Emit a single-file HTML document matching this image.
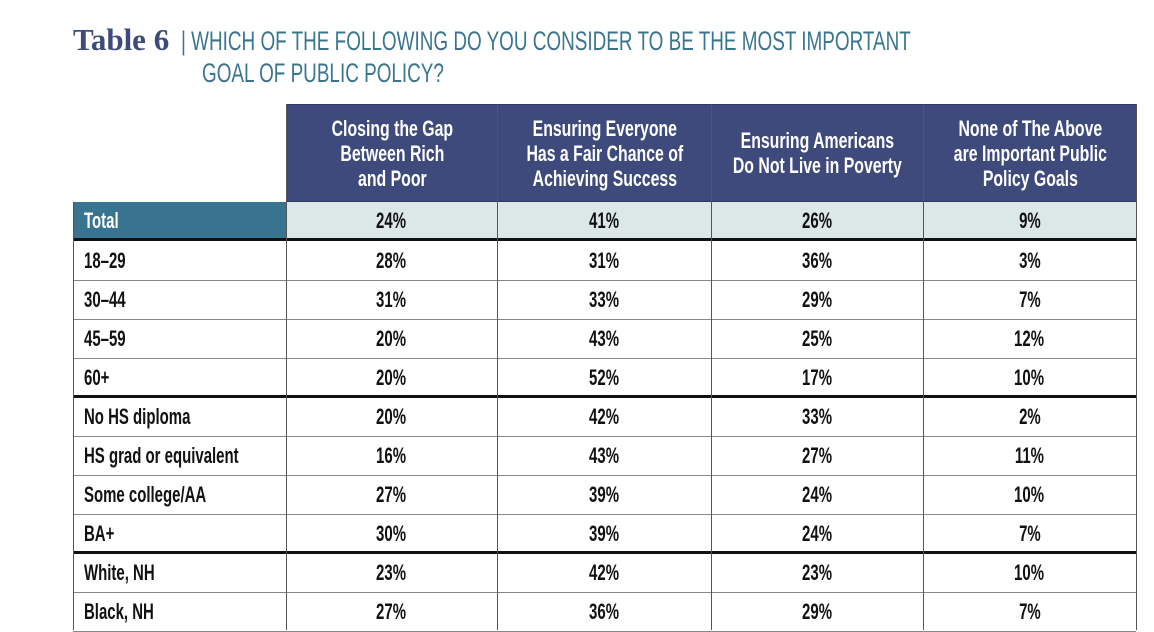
<!DOCTYPE html>
<html><head><meta charset="utf-8">
<style>
body{margin:0;width:1154px;height:630px;overflow:hidden;background:#fff;position:relative;font-family:"Liberation Sans",sans-serif}
.abs{position:absolute}
.c{display:inline-block;transform:scaleX(0.68);white-space:nowrap}
.cell{position:absolute;display:flex;align-items:center;justify-content:center;font-size:22px;font-weight:bold;color:#111;box-sizing:border-box}
.lab{justify-content:flex-start;padding-left:11px}
.lab .c{transform-origin:left center}
.hd{background:#3e4a7c;color:#fff;font-weight:bold;font-size:22px;line-height:25px;text-align:center;border:1px solid #2f3760}
.hd .c{transform:scaleX(0.72)}
.vl{position:absolute;width:1px;background:#555}
.hl{position:absolute;height:1px;background:#888;left:73px;width:1063px}
</style></head><body>
<div class="abs" style="left:73px;top:22px;font-family:'Liberation Serif',serif;font-weight:bold;font-size:31px;color:#3d4a7a">Table 6</div>
<div class="abs" style="left:181px;top:25px;font-size:27px;color:#3a7590;line-height:32px">
<span class="c" style="transform-origin:left;transform:scaleX(0.7)">| WHICH OF THE FOLLOWING DO YOU CONSIDER TO BE THE MOST IMPORTANT</span><br>
<span class="c" style="transform-origin:left;transform:scaleX(0.7);margin-left:21px">GOAL OF PUBLIC POLICY?</span></div>
<div id="tbl"></div>
<script>
const columns=["Closing the Gap<br>Between Rich<br>and Poor","Ensuring Everyone<br>Has a Fair Chance of<br>Achieving Success","Ensuring Americans<br>Do Not Live in Poverty","None of The Above<br>are Important Public<br>Policy Goals"];
const groups=["Total","18–29","30–44","45–59","60+","No HS diploma","HS grad or equivalent","Some college/AA","BA+","White, NH","Black, NH"];
const gapValues=[24,28,31,20,20,20,16,27,30,23,27];
const fairValues=[41,31,33,43,52,42,43,39,39,42,36];
const povertyValues=[26,36,29,25,17,33,27,24,24,23,29];
const noneValues=[9,3,7,12,10,2,11,10,7,10,7];
const series=[gapValues,fairValues,povertyValues,noneValues];
const thickAfter=[0,4,8];
const t=document.getElementById('tbl');
const xs=[73,286,497,711,923,1136];
const headTop=104,headBot=202,rowH=39;
function rowTop(i){return i===0?headBot:241+(i-1)*rowH;}
columns.forEach((c,j)=>{
 const d=document.createElement('div');
 
 
 d.className='cell hd';
 d.style.cssText+=`left:${xs[j+1]}px;top:${headTop}px;width:${xs[j+2]-xs[j+1]+1}px;height:${headBot-headTop}px;`;
 d.innerHTML='<span class="c">'+c+'</span>';
 t.appendChild(d);
});
groups.forEach((g,i)=>{
 const top=rowTop(i),h=i===0?38:rowH;
 if(i===0){
  const bg=document.createElement('div');
  
  
  bg.className='abs';bg.style.cssText=`left:${xs[1]}px;top:${top}px;width:${xs[5]-xs[1]}px;height:${h}px;background:#dbe8e7`;
  t.appendChild(bg);
 }
 const l=document.createElement('div');
 
 
 l.className='cell lab';
 l.style.cssText+=`left:${xs[0]}px;top:${top}px;width:${xs[1]-xs[0]}px;height:${h}px;`+(i===0?'background:#387490;color:#fff;':'');
 l.innerHTML='<span class="c">'+g+'</span>';
 t.appendChild(l);
 series.forEach((s,j)=>{
  const v=document.createElement('div');
  
  
  v.className='cell';
  v.style.cssText+=`left:${xs[j+1]}px;top:${top}px;width:${xs[j+2]-xs[j+1]}px;height:${h}px;`;
  v.innerHTML='<span class="c">'+s[i]+'%</span>';
  t.appendChild(v);
 });
 const hl=document.createElement('div');
 
 
 const thick=thickAfter.includes(i);
 hl.className='hl';
 hl.style.cssText+=`top:${top+h-(thick?2:0)}px;height:${thick?3:1}px;background:${thick?'#111':'#888'}`;
 t.appendChild(hl);
});
xs.forEach((x,k)=>{
 const v=document.createElement('div');
 
 
 v.className='vl';
 const top=k===0?headBot:headTop;
 v.style.cssText+=`left:${x}px;top:${top}px;height:${630-top}px`;
 t.appendChild(v);
});
</script>
</body></html>
